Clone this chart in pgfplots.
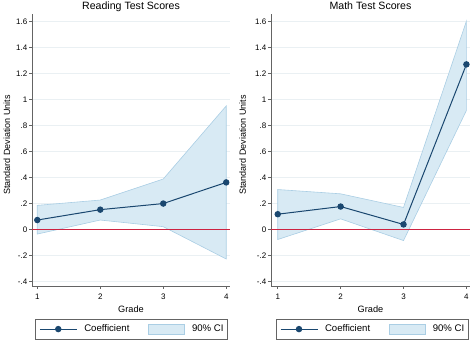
\documentclass[border=0pt]{standalone}
\usepackage{pgfplots}
\pgfplotsset{compat=1.18}
\usepackage{pgfplotstable}
\usepackage{fontspec}
\setmainfont{Liberation Sans}
\definecolor{navy}{RGB}{26,71,111}
\definecolor{cifill}{RGB}{216,234,244}
\definecolor{ciedge}{RGB}{170,206,228}
\definecolor{zerored}{RGB}{205,35,65}
\definecolor{gridc}{RGB}{234,240,243}
\definecolor{axisc}{RGB}{100,100,100}

% coefficients
\pgfplotstableread{
grade coef
1 0.073
2 0.153
3 0.200
4 0.363
}\readcoef
\pgfplotstableread{
grade coef
1 0.118
2 0.177
3 0.039
4 1.272
}\mathcoef
% 90% CI band: upper bound for grades 1-4, then lower bound for grades 4-1
\pgfplotstableread{
grade ci
1 0.186
2 0.227
3 0.389
4 0.952
4 -0.227
3 0.022
2 0.073
1 -0.035
}\readci
\pgfplotstableread{
grade ci
1 0.308
2 0.275
3 0.170
4 1.605
4 0.917
3 -0.085
2 0.082
1 -0.077
}\mathci

\pgfplotsset{
  panel/.style={
    scale only axis, height=272pt,
    ymin=-0.435, ymax=1.66,
    axis x line*=bottom, axis y line*=left,
    axis line style={axisc, line width=0.9pt},
    tick align=outside, major tick length=3pt,
    tick style={axisc, line width=0.6pt},
    xtick={1,2,3,4}, xticklabels={1,2,3,4},
    ytick={-0.4,-0.2,0,0.2,0.4,0.6,0.8,1,1.2,1.4,1.6},
    yticklabels={-.4,-.2,0,.2,.4,.6,.8,1,1.2,1.4,1.6},
    ymajorgrids, grid style={gridc, line width=0.6pt},
    ticklabel style={font=\fontsize{8}{9}\selectfont, inner sep=1.5pt},
    xticklabel style={yshift=-3pt},
    every axis title shift=0pt,
    title style={font=\fontsize{10.6}{12}\selectfont, at={(axis description cs:0.5,1.018)}, anchor=base, inner sep=0pt},
    xlabel style={font=\fontsize{9.2}{11}\selectfont, at={(axis description cs:0.5,-0.0956)}, anchor=base, inner sep=0pt},
    ylabel style={font=\fontsize{9}{11}\selectfont, anchor=base, inner sep=0pt},
    xlabel={Grade}, ylabel={Standard Deviation Units},
    legend columns=2,
    legend cell align=left,
    legend style={anchor=north west, draw=axisc, line width=0.6pt,
      inner xsep=4pt, inner ysep=4.5pt,
      font=\fontsize{9.6}{11}\selectfont,
      nodes={inner sep=0pt},
      /tikz/every odd column/.append style={column sep=7pt},
      /tikz/every even column/.append style={column sep=19pt}},
  },
  coefstyle/.style={draw=navy, line width=1pt, mark=*, mark size=2.7pt, mark options={fill=navy, draw=navy}},
  coeflegend/.style={draw=navy, line width=1pt, mark=*, mark size=2.7pt, mark options={fill=navy, draw=navy},
    legend image code/.code={\draw[mark repeat=2,mark phase=2,##1] plot coordinates {(0pt,0pt) (18.5pt,0pt) (37pt,0pt)};}},
  cilegend/.style={fill=cifill, draw=ciedge, line width=0.6pt,
    legend image code/.code={\draw[##1] (0pt,-5pt) rectangle (36pt,5pt);}},
  bandstyle/.style={fill=cifill, draw=ciedge, line width=0.6pt, forget plot},
  zerostyle/.style={color=zerored, draw=zerored, line width=0.8pt, forget plot},
}

\begin{document}
\begin{tikzpicture}
% Left panel
\begin{axis}[panel, at={(32pt,54pt)}, anchor=south west, width=198pt,
  xmin=0.916, xmax=4.06, title={Reading Test Scores},
  ylabel style={at={(axis description cs:-0.111,0.518)}},
  legend style={at={(axis description cs:0.015,-0.1213)}}]
\addlegendimage{coeflegend}
\addlegendentry{Coefficient}
\addlegendimage{cilegend}
\addlegendentry{90\% CI}
\addplot[bandstyle] table[x=grade, y=ci] {\readci} -- cycle;
\addplot[zerostyle] coordinates {(0.916,0) (4.06,0)};
\addplot[coefstyle, forget plot] table[x=grade, y=coef] {\readcoef};
\end{axis}
% Right panel
\begin{axis}[panel, at={(271pt,54pt)}, anchor=south west, width=199pt,
  xmin=0.893, xmax=4.057, title={Math Test Scores},
  ylabel style={at={(axis description cs:-0.126,0.518)}},
  legend style={at={(axis description cs:0.0236,-0.1213)}}]
\addlegendimage{coeflegend}
\addlegendentry{Coefficient}
\addlegendimage{cilegend}
\addlegendentry{90\% CI}
\addplot[bandstyle] table[x=grade, y=ci] {\mathci} -- cycle;
\addplot[zerostyle] coordinates {(0.893,0) (4.057,0)};
\addplot[coefstyle, forget plot] table[x=grade, y=coef] {\mathcoef};
\end{axis}
\useasboundingbox (0,0) rectangle (474pt,340pt);
\end{tikzpicture}
\end{document}
